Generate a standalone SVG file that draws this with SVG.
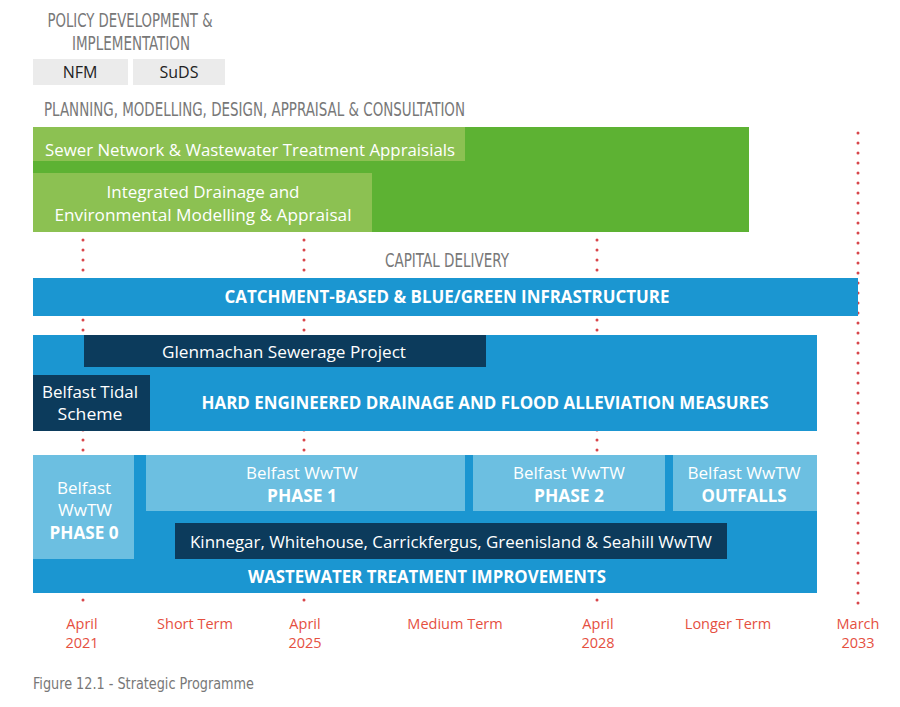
<svg xmlns="http://www.w3.org/2000/svg" width="900" height="707" viewBox="0 0 900 707">
<style>
.hd{font-family:"DejaVu Sans Condensed","Roboto Condensed","Liberation Sans",sans-serif;font-stretch:condensed;fill:#787878;font-size:19px}
.t{font-family:"Open Sans","Liberation Sans",sans-serif;fill:#fff;font-size:17px}
.b{font-family:"Open Sans","Liberation Sans",sans-serif;fill:#fff;font-size:17px;font-weight:bold}
.g{font-family:"Open Sans","Liberation Sans",sans-serif;fill:#222;font-size:16px}
.r{font-family:"Open Sans","Liberation Sans",sans-serif;fill:#e5503f;font-size:14.5px}
.dot{stroke:#d8464a;stroke-width:3;stroke-linecap:round;stroke-dasharray:0 10;fill:none}
</style>
<rect width="900" height="707" fill="#fff"/>
<g id="connectors">
<line class="dot" x1="83" y1="240" x2="83" y2="610"/>
<line class="dot" x1="304" y1="240" x2="304" y2="610"/>
<line class="dot" x1="597" y1="240" x2="597" y2="610"/>
<line class="dot" x1="858" y1="133" x2="858" y2="610"/>
</g>
<g id="policy">
<text class="hd" x="130" y="27" text-anchor="middle" textLength="165" lengthAdjust="spacingAndGlyphs">POLICY DEVELOPMENT &amp;</text>
<text class="hd" x="131" y="50" text-anchor="middle" textLength="118" lengthAdjust="spacingAndGlyphs">IMPLEMENTATION</text>
</g>
<g id="nfm"><rect x="33" y="59" width="95" height="26" fill="#ebebeb"/><text class="g" x="80" y="78" text-anchor="middle">NFM</text></g>
<g id="suds"><rect x="133" y="59" width="92" height="26" fill="#ebebeb"/><text class="g" x="179" y="78" text-anchor="middle">SuDS</text></g>
<g id="planning">
<text class="hd" x="44" y="116" textLength="421" lengthAdjust="spacingAndGlyphs">PLANNING, MODELLING, DESIGN, APPRAISAL &amp; CONSULTATION</text>
<rect x="33" y="127" width="716" height="105" fill="#5db233"/>
</g>
<g id="sewer"><rect x="33" y="127" width="432" height="34" fill="#8cc152"/><text class="t" x="45" y="156" textLength="410" lengthAdjust="spacingAndGlyphs">Sewer Network &amp; Wastewater Treatment Appraisials</text></g>
<g id="integrated"><rect x="33" y="173" width="339" height="59" fill="#8cc152"/>
<text class="t" x="203" y="198" text-anchor="middle" textLength="193" lengthAdjust="spacingAndGlyphs">Integrated Drainage and</text>
<text class="t" x="203" y="221" text-anchor="middle" textLength="297" lengthAdjust="spacingAndGlyphs">Environmental Modelling &amp; Appraisal</text></g>
<g id="capital"><text class="hd" x="447" y="267" text-anchor="middle" textLength="124" lengthAdjust="spacingAndGlyphs">CAPITAL DELIVERY</text></g>
<g id="catchment"><rect x="33" y="278" width="825" height="38" fill="#1b96d1"/><text class="b" x="447" y="303" text-anchor="middle" textLength="445" lengthAdjust="spacingAndGlyphs">CATCHMENT-BASED &amp; BLUE/GREEN INFRASTRUCTURE</text></g>
<g id="hard"><rect x="33" y="335" width="784" height="96" fill="#1b96d1"/><text class="b" x="485" y="409" text-anchor="middle" textLength="567" lengthAdjust="spacingAndGlyphs">HARD ENGINEERED DRAINAGE AND FLOOD ALLEVIATION MEASURES</text></g>
<g id="glenmachan"><rect x="84" y="335" width="402" height="32" fill="#0c3b5c"/><text class="t" x="284" y="358" text-anchor="middle" textLength="244" lengthAdjust="spacingAndGlyphs">Glenmachan Sewerage Project</text></g>
<g id="tidal"><rect x="33" y="375" width="117" height="56" fill="#0c3b5c"/>
<text class="t" x="90" y="398" text-anchor="middle" textLength="96" lengthAdjust="spacingAndGlyphs">Belfast Tidal</text>
<text class="t" x="90" y="420" text-anchor="middle" textLength="65" lengthAdjust="spacingAndGlyphs">Scheme</text></g>
<g id="wwt"><rect x="33" y="455" width="784" height="138" fill="#1b96d1"/><text class="b" x="427" y="583" text-anchor="middle" textLength="358" lengthAdjust="spacingAndGlyphs">WASTEWATER TREATMENT IMPROVEMENTS</text></g>
<g id="phase0"><rect x="33" y="455" width="101" height="104" fill="#6cbfe1"/>
<text class="t" x="84" y="494" text-anchor="middle">Belfast</text>
<text class="t" x="85" y="516" text-anchor="middle">WwTW</text>
<text class="b" x="84" y="539" text-anchor="middle" textLength="69" lengthAdjust="spacingAndGlyphs">PHASE 0</text></g>
<g id="phase1"><rect x="146" y="455" width="319" height="56" fill="#6cbfe1"/>
<text class="t" x="302" y="479" text-anchor="middle" textLength="112" lengthAdjust="spacingAndGlyphs">Belfast WwTW</text>
<text class="b" x="302" y="502" text-anchor="middle" textLength="70" lengthAdjust="spacingAndGlyphs">PHASE 1</text></g>
<g id="phase2"><rect x="473" y="455" width="192" height="56" fill="#6cbfe1"/>
<text class="t" x="569" y="479" text-anchor="middle" textLength="112" lengthAdjust="spacingAndGlyphs">Belfast WwTW</text>
<text class="b" x="569" y="502" text-anchor="middle" textLength="70" lengthAdjust="spacingAndGlyphs">PHASE 2</text></g>
<g id="outfalls"><rect x="673" y="455" width="144" height="56" fill="#6cbfe1"/>
<text class="t" x="744" y="479" text-anchor="middle" textLength="113" lengthAdjust="spacingAndGlyphs">Belfast WwTW</text>
<text class="b" x="744" y="502" text-anchor="middle" textLength="85" lengthAdjust="spacingAndGlyphs">OUTFALLS</text></g>
<g id="kinnegar"><rect x="175" y="523" width="552" height="36" fill="#0c3b5c"/><text class="t" x="451" y="548" text-anchor="middle" textLength="522" lengthAdjust="spacingAndGlyphs">Kinnegar, Whitehouse, Carrickfergus, Greenisland &amp; Seahill WwTW</text></g>
<g id="timeline">
<text class="r" x="82" y="629" text-anchor="middle">April</text><text class="r" x="82" y="648" text-anchor="middle">2021</text>
<text class="r" x="195" y="629" text-anchor="middle">Short Term</text>
<text class="r" x="305" y="629" text-anchor="middle">April</text><text class="r" x="305" y="648" text-anchor="middle">2025</text>
<text class="r" x="455" y="629" text-anchor="middle">Medium Term</text>
<text class="r" x="598" y="629" text-anchor="middle">April</text><text class="r" x="598" y="648" text-anchor="middle">2028</text>
<text class="r" x="728" y="629" text-anchor="middle">Longer Term</text>
<text class="r" x="858" y="629" text-anchor="middle">March</text><text class="r" x="858" y="648" text-anchor="middle">2033</text>
</g>
<text class="hd" x="33" y="689" style="font-size:16px" textLength="221" lengthAdjust="spacingAndGlyphs">Figure 12.1 - Strategic Programme</text>
</svg>
